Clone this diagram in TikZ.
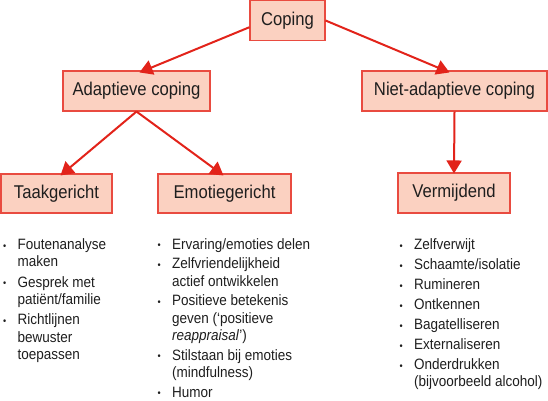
\documentclass[tikz,border=0pt]{standalone}
\usepackage{fontspec}
\setmainfont[FakeStretch=0.9]{Liberation Sans}
\usetikzlibrary{arrows.meta}
\definecolor{boxfill}{HTML}{FBD1C1}
\definecolor{boxline}{HTML}{E94B40}
\definecolor{arrred}{HTML}{E2231A}
\definecolor{txt}{HTML}{1E1E1E}
\newcommand{\blt}{\makebox[14.5pt][l]{\raisebox{0.5pt}{\fontsize{10}{10}\selectfont•}}}
\begin{document}
\begin{tikzpicture}[x=1pt,y=-1pt,
  cbox/.style={draw=boxline,fill=boxfill,line width=1.1pt,inner sep=0pt,
    minimum height=40pt,text=txt,font=\fontsize{18.5}{20}\selectfont},
  arr/.style={draw=arrred,line width=2pt,-{Triangle[length=13pt,width=15pt]}},
  listnode/.style={anchor=base west,inner sep=0pt,text=txt,
    font=\fontsize{15}{17.3}\selectfont}]
\useasboundingbox (0,0) rectangle (548,400);
\node[cbox,minimum width=75pt] (coping) at (287.5,20.5) {Coping};
\node[cbox,minimum width=147pt] (adapt) at (136.5,91) {Adaptieve coping};
\node[cbox,minimum width=185pt] (niet) at (454.5,91) {Niet-adaptieve coping};
\node[cbox,minimum width=111pt,minimum height=39pt] (taak) at (56.5,193.5) {Taakgericht};
\node[cbox,minimum width=133pt,minimum height=39pt] (emotie) at (224.5,193.5) {Emotiegericht};
\node[cbox,minimum width=112pt] (verm) at (454,193) {Vermijdend};
\draw[arr] (coping.190) -- ([xshift=3pt,yshift=-2pt]adapt.north);
\draw[arr] (coping.east) -- ([xshift=-5pt,yshift=-2pt]niet.north);
\draw[arr] (adapt.south) -- ([xshift=4pt,yshift=-2pt]taak.north);
\draw[arr] (adapt.south) -- ([xshift=-1pt,yshift=-2pt]emotie.north);
\draw[arr] (niet.south) -- ([yshift=-1pt]verm.north);
\node[listnode] (l1) at (3,249.5) {\begin{tabular}[t]{@{}l@{}l@{}}
\blt & Foutenanalyse\\
 & maken\\[3pt]
\blt & Gesprek met\\
 & patiënt/familie\\[3pt]
\blt & Richtlijnen\\
 & bewuster\\
 & toepassen
\end{tabular}};
\node[listnode] (l2) at (157.5,249) {\begin{tabular}[t]{@{}l@{}l@{}}
\blt & Ervaring/emoties delen\\[2.5pt]
\blt & Zelfvriendelijkheid\\
 & actief ontwikkelen\\[2.5pt]
\blt & Positieve betekenis\\
 & geven (‘positieve\\
 & \textit{reappraisal}’)\\[2.5pt]
\blt & Stilstaan bij emoties\\
 & (mindfulness)\\[2.5pt]
\blt & Humor
\end{tabular}};
\node[listnode] (l3) at (399.5,249.5) {\begin{tabular}[t]{@{}l@{}l@{}}
\blt & Zelfverwijt\\[2.7pt]
\blt & Schaamte/isolatie\\[2.7pt]
\blt & Rumineren\\[2.7pt]
\blt & Ontkennen\\[2.7pt]
\blt & Bagatelliseren\\[2.7pt]
\blt & Externaliseren\\[2.7pt]
\blt & Onderdrukken\\
 & (bijvoorbeeld alcohol)
\end{tabular}};
\end{tikzpicture}
\end{document}
